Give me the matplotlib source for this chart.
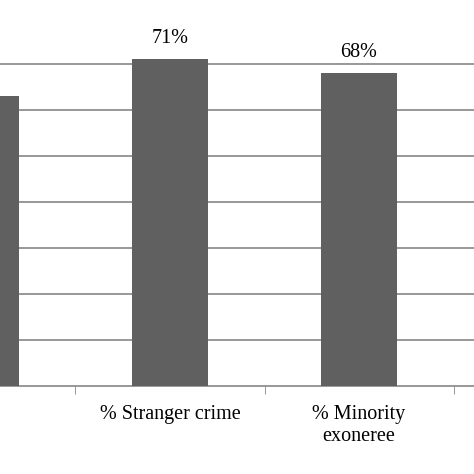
import matplotlib.pyplot as plt

categories = ["% Sexual assault", "% Stranger crime", "% Minority\nexoneree", "% Other"]
values = [63, 71, 68, 50]
value_labels = ["63%", "71%", "68%", "50%"]

plt.rcParams['font.family'] = ['Liberation Serif', 'DejaVu Serif']

fig = plt.figure(figsize=(4.74, 4.74), dpi=100)
ax = fig.add_axes([0, 88 / 474, 1, 386 / 474])

x = list(range(len(categories)))
ax.bar(x, values, width=0.40, color='#606060', zorder=3)
for xi, v, lab in zip(x, values, value_labels):
    ax.text(xi, v + 2.5, lab, ha='center', va='bottom', fontsize=14.5, zorder=4)

ax.set_yticks(range(10, 71, 10))
ax.yaxis.grid(True, color='#868686', linewidth=1.2, zorder=0)
ax.tick_params(axis='y', left=False, labelleft=False)

ax.set_xticks(x)
ax.set_xticklabels(categories, fontsize=14.5)
ax.set_xticks([i + 0.5 for i in range(-1, len(categories))], minor=True)
ax.tick_params(axis='x', which='major', length=0, pad=14)
ax.tick_params(axis='x', which='minor', length=6, color='#868686')

ax.set_xlim(0.101, 2.608)
ax.set_ylim(0, 83.9)

for s in ['top', 'left', 'right']:
    ax.spines[s].set_visible(False)
ax.spines['bottom'].set_color('#868686')
ax.spines['bottom'].set_linewidth(1.2)

fig.savefig("out.png", dpi=100)
